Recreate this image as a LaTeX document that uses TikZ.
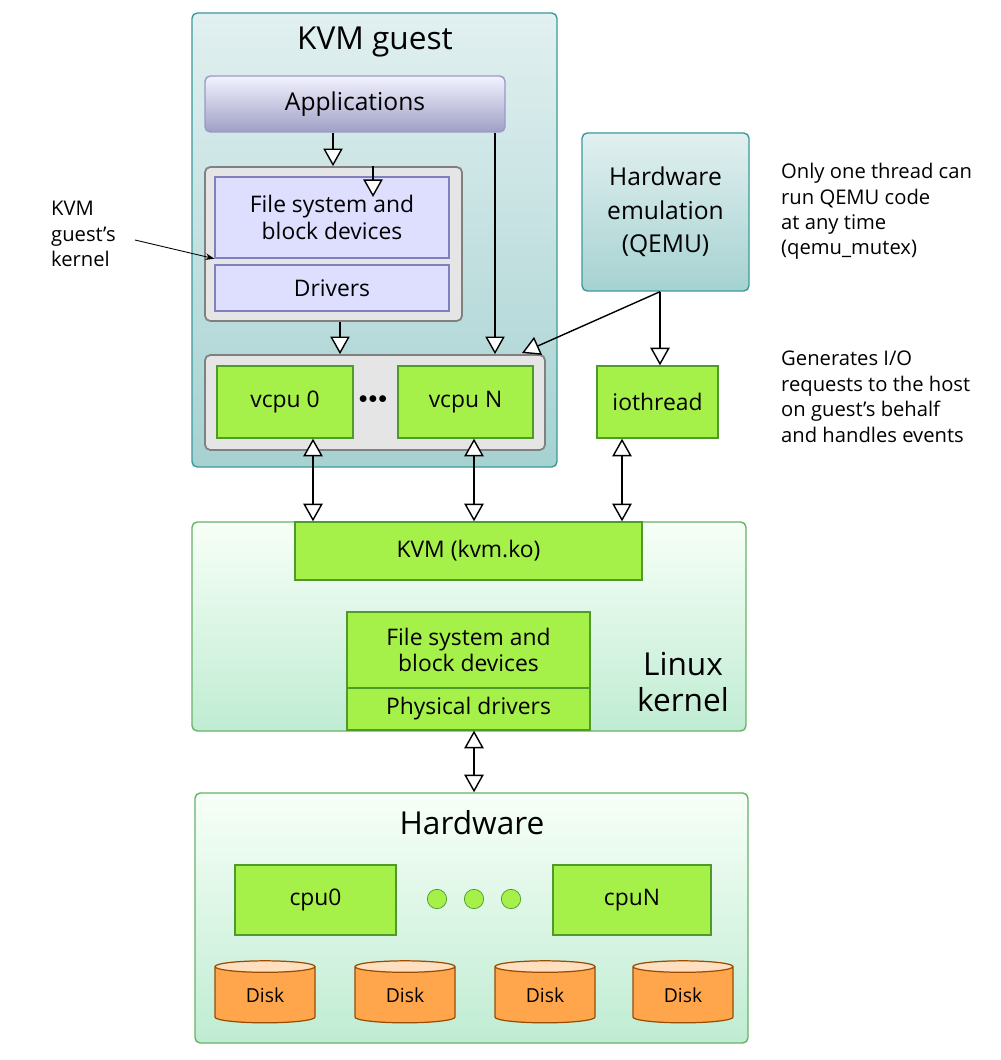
\documentclass[tikz,border=0pt]{standalone}
\usepackage{fontspec}
\setmainfont{Open Sans}
\usetikzlibrary{arrows.meta,fit,shapes.geometric}
\definecolor{teal1}{HTML}{3A9A9A}
\definecolor{grn}{HTML}{A6F04A}
\definecolor{grnb}{HTML}{4E9A2A}
\tikzset{
 x=0.02cm,y=-0.02cm,
 bx/.style={fit={#1},inner sep=0pt,rounded corners=3pt,line width=0.8pt},
 teal/.style={draw=teal1,top color=white!85!teal1,bottom color=teal1!45!white},
 lav/.style={draw=black!55!blue!40,top color=blue!5,bottom color=blue!25!gray!60},
 gry/.style={draw=gray,fill=black!10,line width=1pt},
 lblue/.style={draw=black!50!blue!50,fill=blue!13,rounded corners=0pt},
 gr/.style={draw=grnb,fill=grn,rounded corners=0pt},
 lgreen/.style={draw=green!50!black!60,top color=green!3,bottom color=green!40!teal!25},
 t/.style={font=\fontsize{13}{15}\selectfont,align=center},
 tb/.style={font=\fontsize{14}{19}\selectfont,align=center},
 oa/.style={-{Triangle[open,fill=white,width=11pt,length=10pt]},line width=0.8pt},
 oa2/.style={{Triangle[open,fill=white,width=11pt,length=10pt]}-{Triangle[open,fill=white,width=11pt,length=10pt]},line width=0.8pt},
 side/.style={font=\fontsize{11.5}{14.5}\selectfont,align=left,anchor=north west},
 disk/.style={cylinder,shape border rotate=90,aspect=0.3,draw=orange!60!black,cylinder uses custom fill,cylinder body fill=orange!70,cylinder end fill=orange!25,minimum width=100*0.02cm,minimum height=62*0.02cm,inner sep=0pt,font=\fontsize{11}{13}\selectfont,line width=0.7pt},
}
\begin{document}
\begin{tikzpicture}
\useasboundingbox (0,0) rectangle (1000,1060);
% KVM guest
\node[bx={(192,13)(557,467)},teal] (guest) {};
\node[font=\fontsize{18}{20}\selectfont] at (375,42) {KVM guest};
\node[bx={(205,76)(505,132)},lav] (app) {};
\node[tb] at (app) {Applications};
\node[bx={(205,167)(462,321)},gry] (kern) {};
\node[bx={(215,177)(449,258)},lblue] (fs) {};
\node[t] at (fs) {File system and\\block devices};
\node[bx={(215,265)(449,311)},lblue] (drv) {};
\node[t] at (drv) {Drivers};
\node[bx={(205,355)(545,450)},gry] (vcont) {};
\node[bx={(217,366)(353,438)},gr] (v0) {};
\node[t] at (v0) {vcpu 0};
\node[font=\bfseries] at (373,400) {$\bullet\!\bullet\!\bullet$};
\node[bx={(398,366)(533,438)},gr] (vN) {};
\node[t] at (vN) {vcpu N};
% QEMU
\node[bx={(582,133)(749,291)},teal] (qemu) {};
\node[tb] at (qemu) {Hardware\\emulation\\(QEMU)};
\node[bx={(597,366)(718,438)},gr] (io) {};
\node[t] at (io) {iothread};
% Linux kernel
\node[bx={(192,522)(746,731)},lgreen] (lk) {};
\node[bx={(295,522)(642,580)},gr] (kvm) {};
\node[t] at (kvm) {KVM (kvm.ko)};
\node[bx={(347,612)(590,688)},gr] (hfs) {};
\node[t] at (hfs) {File system and\\block devices};
\node[bx={(347,688)(590,730)},gr] (pd) {};
\node[t] at (pd) {Physical drivers};
\node[font=\fontsize{18}{21}\selectfont,align=center] at (683,682) {Linux\\kernel};
% Hardware
\node[bx={(195,793)(748,1043)},lgreen] (hw) {};
\node[font=\fontsize{18}{20}\selectfont] at (472,823) {Hardware};
\node[bx={(235,865)(396,935)},gr] (c0) {};
\node[t] at (c0) {cpu0};
\node[bx={(553,865)(711,935)},gr] (cN) {};
\node[t] at (cN) {cpuN};
\foreach \x in {437,474,511} \node[circle,draw=grnb,fill=grn,minimum size=11pt,inner sep=0pt] at (\x,899) {};
\node[disk] (d1) at (265,995) {Disk};
\node[disk] (d2) at (405,995) {Disk};
\node[disk] (d3) at (545,995) {Disk};
\node[disk] (d4) at (683,995) {Disk};
% arrows
\draw[oa] (app.south -| 333,0) -- (kern.north -| 333,0);
\draw[oa] (kern.north -| 373,0) -- (373,197);
\draw[oa] (app.south -| 495,0) -- (vcont.north -| 495,0);
\draw[oa] (kern.south -| 340,0) -- (vcont.north -| 340,0);
\coordinate (qb) at (qemu.south -| 660,0);
\draw[oa] (qb) -- (522,353);
\draw[oa] (qb) -- (io.north -| 660,0);
\draw[oa2] (v0.south -| 313,0) -- (kvm.north -| 313,0);
\draw[oa2] (vN.south -| 474,0) -- (kvm.north -| 474,0);
\draw[oa2] (io.south -| 622,0) -- (kvm.north -| 622,0);
\draw[oa2] (pd.south -| 474,0) -- (hw.north -| 474,0);
% side texts
\node[side] (kl) at (45,195) {KVM\\guest’s\\kernel};
\draw[-{Stealth[length=5pt]},line width=0.5pt] (135,240) -- (fs.south west);
\node[side] at (775,157) {Only one thread can\\run QEMU code\\at any time\\(qemu\_mutex)};
\node[side] at (775,345) {Generates I/O\\requests to the host\\on guest’s behalf\\and handles events};
\end{tikzpicture}
\end{document}
